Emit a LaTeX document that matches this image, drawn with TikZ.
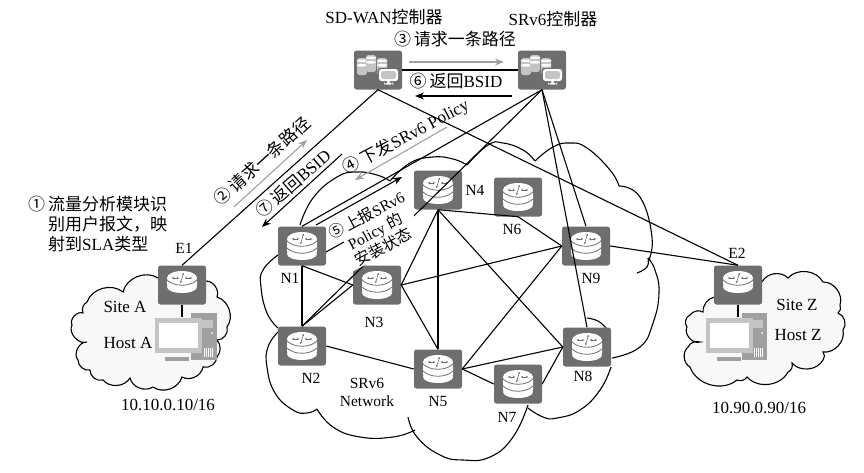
\documentclass[tikz,border=0pt]{standalone}
\usepackage{fontspec}
\setmainfont{Liberation Serif}
\newfontfamily\cjk{Noto Sans CJK SC}
\usepackage{xcolor}
\usetikzlibrary{arrows.meta, positioning}
\definecolor{boxgray}{HTML}{6E6E6E}
\definecolor{midgray}{HTML}{A0A0A0}
\definecolor{lightgray}{HTML}{C4C4C4}
\definecolor{cloudfill}{HTML}{F8F8F8}

% icon drawn inside a router box
\newcommand{\diskicon}[1]{%
  \begin{scope}[shift={(path picture bounding box.center)}]
    \fill[white] (0,-7) ellipse (15 and 7);
    \fill[white] (-15,-7) rectangle (15,#1);
    \fill[white] (0,#1) ellipse (15 and 6);
    \draw[boxgray, line width=.8pt] (-15,-5) .. controls (-8,2) and (8,2) .. (15,-5);
    \ifnum#1>5
      \draw[boxgray, line width=.8pt] (-15,2) .. controls (-8,9) and (8,9) .. (15,2);
    \fi
    \draw[boxgray, line width=.6pt, {Stealth[length=2pt, width=2.5pt]}-{Stealth[length=2pt, width=2.5pt]}] (-10,-7) -- (-3,-7);
    \draw[boxgray, line width=.6pt, {Stealth[length=2pt, width=2.5pt]}-{Stealth[length=2pt, width=2.5pt]}] (3,-7) -- (10,-7);
    \draw[boxgray, line width=.6pt, {Stealth[length=2pt, width=2.5pt]}-{Stealth[length=2pt, width=2.5pt]}] (1.5,-12) -- (-1.5,-2);
  \end{scope}}

% icon drawn inside a controller box
\newcommand{\servericon}{%
  \begin{scope}[shift={(path picture bounding box.center)}]
    \foreach \xa/\ya in {-21/-12, -12/-15, -1/-12} {
      \fill[lightgray] (\xa,\ya) rectangle ++(10,17);
      \fill[white] (\xa,\ya+1.5) rectangle ++(10,2.5);
      \fill[white] (\xa,\ya+6) rectangle ++(10,2.5);
    }
    \fill[boxgray] (-0.5,-2) rectangle (21,13);
    \fill[white] (1,-1) rectangle (20,11);
    \fill[lightgray] (3,1) rectangle (18,9);
    \fill[white] (9,11) rectangle (12,13);
    \fill[white] (6,13) rectangle (15,14.5);
  \end{scope}}

% tower and keyboard behind a host screen
\newcommand{\hosttower}[3]{%
  \fill[midgray] (#1,313) rectangle ++(#2,47);
  \fill[lightgray] (#1+4,320) rectangle ++(#2-8,8);
  \fill[white] (#1+#2-5,333) circle (1);
  \foreach \i in {1,...,5} \fill[white] (#1+#2-3-2*\i,348) rectangle ++(.8,9);
  \fill[midgray] (#3,357) rectangle ++(24,4);}

\tikzset{
  router/.style={fill=boxgray, rounded corners=2.5pt, minimum width=48pt, minimum height=39pt, inner sep=0pt, path picture={\diskicon{8}}},
  edgerouter/.style={fill=boxgray, rounded corners=2.5pt, minimum width=48pt, minimum height=39pt, inner sep=0pt, path picture={\diskicon{2}}},
  controller/.style={fill=boxgray, rounded corners=2.5pt, minimum width=48pt, minimum height=39pt, inner sep=0pt, path picture={\servericon}},
  hostscreen/.style={fill=lightgray, minimum width=47pt, minimum height=35pt, inner sep=0pt, path picture={\fill[white] ([shift={(4,5)}]path picture bounding box.north west) rectangle ([shift={(-4,-5)}]path picture bounding box.south east);}},
  cloudline/.style={draw=black, line width=1.1pt},
  link/.style={draw=black, line width=1.1pt},
  blackarrow/.style={draw=black, line width=1.1pt, -{Stealth[length=9pt, width=7pt]}},
  grayarrow/.style={draw=midgray, line width=1.1pt, -{Stealth[length=9pt, width=7pt]}},
  label/.style={font=\fontsize{17}{20}\selectfont, inner sep=0pt},
  nlabel/.style={font=\fontsize{15.5}{18}\selectfont, inner sep=0pt},
}

\begin{document}
\begin{tikzpicture}[x=1pt, y=-1pt]
\useasboundingbox (0,0) rectangle (864,472);

% Clouds
\draw[cloudline, fill=cloudfill] (158,278) to[bend right=55] (123,292) to[bend right=55] (87,302) to[bend right=40] (83,313)
  to[bend right=70] (72,325) to[bend right=70] (87,342) to[bend right=70] (78,360) to[bend right=50] (90,370)
  to[bend right=55] (103,380) to[bend right=55] (130,378) to[bend right=55] (153,387) to[bend right=55] (182,377)
  to[bend right=55] (203,367) to[bend right=50] (217,357) to[bend right=40] (217,340) to[bend right=55] (227,327)
  to[bend right=55] (217,297) to[bend right=55] (206,281);
\draw[cloudline, fill=cloudfill] (762,282) to[bend left=55] (788,278) to[bend left=55] (823,282) to[bend left=55] (840,305)
  to[bend left=40] (838,313) to[bend left=55] (843,330) to[bend left=55] (823,352) to[bend left=40] (823,360)
  to[bend left=55] (792,363) to[bend left=40] (788,372) to[bend left=55] (747,377) to[bend left=40] (737,380)
  to[bend left=55] (690,367) to[bend left=55] (688,347) to[bend left=40] (700,342) to[bend left=70] (687,327)
  to[bend left=55] (690,315) to[bend left=40] (703,312) to[bend left=40] (715,297);

\draw[cloudline] plot[smooth, tension=.8] coordinates {(278,255) (263,270) (261,287) (267,313) (278,328)};
\draw[cloudline] plot[smooth, tension=.8] coordinates {(278,332) (268,347) (267,367) (275,393) (293,410) (307,413) (317,409)};
\draw[cloudline] plot[smooth, tension=.8] coordinates {(317,409) (333,427) (360,437) (393,437) (415,430)};
\draw[cloudline] plot[smooth, tension=.8] coordinates {(408,417) (417,437) (440,455) (463,460) (490,457) (513,437) (528,405)};
\draw[cloudline] plot[smooth, tension=.8] coordinates {(528,408) (543,417) (557,418) (580,410) (600,390) (611,367)};
\draw[cloudline] plot[smooth, tension=.8] coordinates {(612,358) (640,347) (653,323) (659,293) (655,270) (648,258)};
\draw[cloudline] plot[smooth, tension=.8] coordinates {(648,258) (647,267) (637,273)};
\draw[cloudline] plot[smooth, tension=.8] coordinates {(648,262) (652,237) (640,197) (619,186)};
\draw[cloudline] plot[smooth, tension=.8] coordinates {(619,186) (610,170) (587,148) (570,143) (553,147) (535,161)};
\draw[cloudline] plot[smooth, tension=.8] coordinates {(535,161) (523,150) (503,143) (488,145) (467,165)};
\draw[cloudline] plot[smooth, tension=.8] coordinates {(467,165) (453,159) (433,157) (410,163) (390,181)};
\draw[cloudline] plot[smooth, tension=.8] coordinates {(390,181) (377,175) (357,172) (337,177) (313,198) (300,225)};
\draw[cloudline] plot[smooth, tension=.8] coordinates {(587,318) (598,321) (606,328)};

% Hosts
\hosttower{191}{26}{165}
\node[hostscreen] (hostA) at (178,335) {};
\hosttower{742}{25}{717}
\node[hostscreen] (hostZ) at (729,335) {};

% Nodes
\node[controller] (sdwan) at (378,70) {};
\node[controller] (srv6) at (542,70) {};
\node[edgerouter] (E1) at (182,285) {};
\node[edgerouter] (E2) at (738,285) {};
\node[router] (N1) at (302,246) {};
\node[router] (N2) at (302,346) {};
\node[router] (N3) at (377,285) {};
\node[router] (N4) at (438,190) {};
\node[router] (N5) at (438,369) {};
\node[router] (N6) at (518,197) {};
\node[router] (N7) at (518,384) {};
\node[router] (N8) at (587,347) {};
\node[router] (N9) at (586,246) {};

\draw[link] (sdwan.east) -- (srv6.west);
\draw[link] (sdwan.south) -- (E1.north);
\draw[link] (sdwan.south) -- (E2.north);
\draw[link] (srv6.south) -- (N1.north);
\draw[link] (srv6.south) -- (N2.north);
\draw[link] (srv6.south) -- (N9.north);
\draw[link] (srv6.south) -- (N8.north);
\draw[link] (E1.south) -- (E1.south |- hostA.north);
\draw[link] (E2.south) -- (E2.south |- hostZ.north);

\draw[link] (N1.south) -- (N2.north);
\draw[link] (N1.south) -- (N3.west);
\draw[link] (N2.north) -- (N3.west);
\draw[link] (N2.east) -- (N5.west);
\draw[link] (N3.east) -- (N4.south);
\draw[link] (N3.east) -- (N5.north);
\draw[link] (N3.east) -- (N9.west);
\draw[link] (N4.south) -- (N5.north);
\draw[link] (N4.south) -- (N6.south);
\draw[link] (N4.south) -- (N8.west);
\draw[link] (N5.east) -- (N7.west);
\draw[link] (N5.east) -- (N8.west);
\draw[link] (N5.east) -- (N9.west);
\draw[link] (N6.south) -- (N9.west);
\draw[link] (N7.east) -- (N8.west);
\draw[link] (N9.east) -- (E2.north);

% Labels
\node[label] (tsdwan) at (384,17) {SD-WAN{\cjk 控制器}};
\node[label] (tsrv6) at (553,19) {SRv6{\cjk 控制器}};
\node[label] (t3) at (455,39) {\cjk ③\hspace{3pt}请求一条路径};
\node[label] (t6) at (456,81) {{\cjk ⑥\hspace{3pt}返回}BSID};
\node[label, rotate=42] (t2) at (262,161) {\cjk ②\hspace{3pt}请求一条路径};
\node[label, rotate=41] (t7) at (293,183) {{\cjk ⑦\hspace{3pt}返回}BSID};
\node[label, rotate=28] (t4) at (406,137) {{\cjk ④\hspace{3pt}下发}SRv6 Policy};
\node[label, rotate=28, fill=white, align=center, font=\fontsize{15.5}{18}\selectfont] (t5) at (375,231) {{\cjk ⑤\hspace{2pt}上报}SRv6\\Policy {\cjk 的}\\{\cjk 安装状态}};
\node[label, anchor=west, align=left] (t1) at (28,224) {\cjk ①\hspace{3pt}流量分析模块识\\\hspace*{20pt}\cjk 别用户报文，映\\\hspace*{20pt}\cjk 射到{\rmfamily SLA}类型};

% Arrows
\coordinate (a2s) at (234,207);
\coordinate (a2e) at (307,140);
\coordinate (a3s) at (409,62);
\coordinate (a3e) at (504,62);
\coordinate (a4s) at (447,127);
\coordinate (a4e) at (355,180);
\coordinate (a5s) at (316,225);
\coordinate (a5e) at (402,177);
\coordinate (a6s) at (512,96);
\coordinate (a6e) at (415,96);
\coordinate (a7s) at (342,154);
\coordinate (a7e) at (262,227);
\coordinate (stubA) at (326,252);
\coordinate (stubB) at (344,242);
\draw[grayarrow] (a2s) -- (a2e);
\draw[grayarrow] (a3s) -- (a3e);
\draw[grayarrow] (a4s) -- (a4e);
\draw[blackarrow] (a5s) -- (a5e);
\draw[blackarrow] (a6s) -- (a6e);
\draw[blackarrow] (a7s) -- (a7e);
\draw[link] (stubA) -- (stubB);

\node[nlabel] (lE1) at (184,248) {E1};
\node[nlabel] (lE2) at (737,253) {E2};
\node[nlabel] (lN1) at (290,278) {N1};
\node[nlabel] (lN2) at (311,378) {N2};
\node[nlabel] (lN3) at (374,322) {N3};
\node[nlabel] (lN4) at (475,190) {N4};
\node[nlabel] (lN5) at (438,401) {N5};
\node[nlabel] (lN6) at (512,229) {N6};
\node[nlabel] (lN7) at (507,417) {N7};
\node[nlabel] (lN8) at (583,376) {N8};
\node[nlabel] (lN9) at (591,278) {N9};
\node[nlabel, align=center] (lnet) at (367,392) {SRv6\\Network};
\node[label] (lsiteA) at (125,307) {Site A};
\node[label] (lhostA) at (128,343) {Host A};
\node[label] (lsiteZ) at (797,305) {Site Z};
\node[label] (lhostZ) at (798,335) {Host Z};
\node[label] (lipA) at (168,405) {10.10.0.10/16};
\node[label] (lipZ) at (759,408) {10.90.0.90/16};

\end{tikzpicture}
\end{document}
